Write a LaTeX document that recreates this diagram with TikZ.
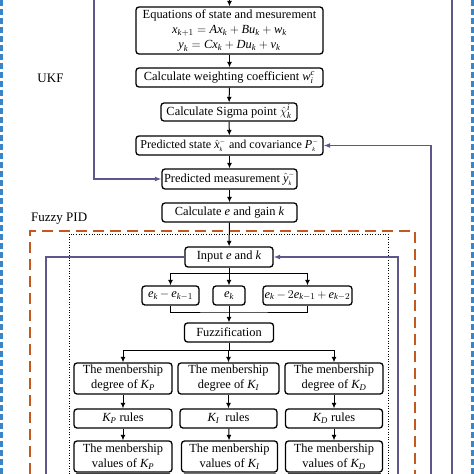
\documentclass[tikz,border=0pt]{standalone}
\usepackage{fontspec}
\setmainfont{Liberation Serif}
\usepackage{amsmath}
\usetikzlibrary{arrows.meta}
\definecolor{pur}{RGB}{92,88,140}
\definecolor{org}{RGB}{192,90,34}
\definecolor{blu}{RGB}{58,132,200}
\newcommand\mv[1]{\textit{#1}}
\begin{document}
\begin{tikzpicture}[x=1pt,y=-1pt,
 box/.style={draw=black,line width=1.3pt,rounded corners=3pt,inner sep=0pt,align=center,font=\fontsize{12.4}{15}\selectfont},
 arr/.style={-{Latex[length=5.5pt,width=5pt]},line width=1pt},
 ln/.style={line width=1pt},
 parr/.style={draw=pur,line width=1.2pt,-{Latex[length=6.5pt,width=5pt]}},
 pline/.style={draw=pur,line width=1.2pt},
 lbl/.style={font=\fontsize{13}{15}\selectfont,inner sep=0pt}]
\useasboundingbox (0,0) rectangle (474,474);
% frames
\draw[blu,line width=3pt,dash pattern=on 6pt off 3pt] (1.5,0) -- (1.5,474);
\draw[blu,line width=3pt,dash pattern=on 6pt off 3pt] (472.5,0) -- (472.5,474);
\draw[org,line width=2.4pt,dash pattern=on 11pt off 6pt] (30,474) -- (30,231) -- (415,231) -- (415,474);
\draw[dotted,line width=0.6pt] (69,474) -- (69,234) -- (388,234) -- (388,474);
% labels
\node[lbl] (ukf) at (50.5,78) {UKF};
\node[lbl,anchor=west] (fpid) at (31,219) {Fuzzy PID};
% UKF boxes
\node[box,minimum width=187pt,minimum height=47pt] (eq) at (229.5,30.5)
 {Equations of state and mesurement\\
 $\mv{x}_{\mv{k}+1}=\mv{Ax}_{\mv{k}}+\mv{Bu}_{\mv{k}}+\mv{w}_{\mv{k}}$\\
 $\mv{y}_{\mv{k}}=\mv{Cx}_{\mv{k}}+\mv{Du}_{\mv{k}}+\mv{v}_{\mv{k}}$};
\node[box,minimum width=187pt,minimum height=19pt] (wc) at (229.5,77.5)
 {Calculate weighting coefficient $\mv{w}_{\mv{i}}^{\mv{c}}$};
\node[box,minimum width=136pt,minimum height=18pt] (sig) at (229,112)
 {Calculate Sigma point $\hat{\chi}_{\mv{k}}^{\mv{i}}$};
\node[box,minimum width=187pt,minimum height=19pt,font=\fontsize{12.1}{15}\selectfont] (ps) at (229.5,145.5)
 {Predicted state $\hat{\mv{x}}_{\scriptscriptstyle\mv{k}}^{\scriptscriptstyle-}$ and covariance $\mv{P}_{\scriptscriptstyle\mv{k}}^{\scriptscriptstyle-}$};
\node[box,minimum width=135pt,minimum height=20pt] (pm) at (229.5,179)
 {Predicted measurement $\hat{\mv{y}}_{\scriptscriptstyle\mv{k}}^{\scriptscriptstyle-}$};
\node[box,minimum width=135pt,minimum height=19pt] (ce) at (229.5,212.5)
 {Calculate $\mv{e}$ and gain $\mv{k}$};
% Fuzzy boxes
\node[box,minimum width=88pt,minimum height=20pt] (in) at (229,257)
 {Input $\mv{e}$ and $\mv{k}$};
\node[box,minimum width=57pt,minimum height=19pt] (e1) at (170.5,295.5)
 {$\medmuskip=3mu\mv{e}_{\mv{k}}-\mv{e}_{\mv{k}-1}$};
\node[box,minimum width=32pt,minimum height=19pt] (e2) at (229,295.5)
 {$\mv{e}_{\mv{k}}$};
\node[box,minimum width=89pt,minimum height=19pt] (e3) at (307.5,295.5)
 {$\medmuskip=3mu\mv{e}_{\mv{k}}-2\mv{e}_{\mv{k}-1}+\mv{e}_{\mv{k}-2}$};
\node[box,minimum width=89pt,minimum height=19pt] (fz) at (229,332.5)
 {Fuzzification};
\node[box,minimum width=98pt,minimum height=31pt] (d1) at (123,378.5)
 {The menbership\\degree of $\mv{K}_{\mv{P}}$};
\node[box,minimum width=101pt,minimum height=31pt] (d2) at (228.5,378.5)
 {The menbership\\degree of $\mv{K}_{\mv{I}}$};
\node[box,minimum width=98pt,minimum height=31pt] (d3) at (334,378.5)
 {The menbership\\degree of $\mv{K}_{\mv{D}}$};
\node[box,minimum width=98pt,minimum height=19pt] (r1) at (123,418.5)
 {$\mv{K}_{\mv{P}}$ rules};
\node[box,minimum width=97pt,minimum height=19pt] (r2) at (228.5,418.5)
 {$\mv{K}_{\mv{I}}$\ \ rules};
\node[box,minimum width=97pt,minimum height=19pt] (r3) at (334,418.5)
 {$\mv{K}_{\mv{D}}$ rules};
\node[box,minimum width=98pt,minimum height=31pt] (v1) at (123,456.5)
 {The menbership\\values of $\mv{K}_{\mv{P}}$};
\node[box,minimum width=96pt,minimum height=31pt] (v2) at (229.5,456.5)
 {The menbership\\values of $\mv{K}_{\mv{I}}$};
\node[box,minimum width=97pt,minimum height=31pt] (v3) at (334,456.5)
 {The menbership\\values of $\mv{K}_{\mv{D}}$};
% bottom edges of the next row
\draw[line width=2pt,black!75] (76,473.5) -- (170,473.5);
\draw[line width=2pt,black!55] (184,473.5) -- (276,473.5);
\draw[line width=2pt,black!75] (288,473.5) -- (381,473.5);
% main flow
\coordinate (top) at (229.5,0);
\draw[arr] (top) -- (eq.north);
\draw[arr] (eq) -- (wc);
\draw[arr] (wc) -- (sig);
\draw[arr] (sig) -- (ps);
\draw[arr] (ps) -- (pm);
\draw[arr] (pm) -- (ce);
\draw[arr] (ce) -- (in);
\coordinate (b1) at (229,273);
\draw[ln] (in.south) -- (b1);
\draw[arr] (b1) -| (e1.north);
\draw[arr] (b1) -- (e2.north);
\draw[arr] (b1) -| (e3.north);
\coordinate (m1) at (229,312);
\draw[ln] (e1.south) |- (m1) -| (e3.south);
\draw[ln] (e2.south) -- (m1);
\draw[arr] (m1) -- (fz.north);
\coordinate (b2) at (229,350);
\draw[ln] (fz.south) -- (b2);
\draw[arr] (b2) -| (d1.north);
\draw[arr] (b2) -| (d2.north);
\draw[arr] (b2) -| (d3.north);
\draw[arr] (d1) -- (r1);
\draw[arr] (d2) -- (r2);
\draw[arr] (d3) -- (r3);
\draw[arr] (r1) -- (v1);
\draw[arr] (r2) -- (v2);
\draw[arr] (r3) -- (v3);
% purple feedback lines
\coordinate (lt) at (94,0);
\draw[parr] (lt) |- (pm.west);
\coordinate (rb) at (431,474);
\draw[parr] (rb) |- (ps.east);
\coordinate (r2b) at (398,474);
\draw[parr] (r2b) |- (in.east);
\coordinate (l2b) at (46,474);
\draw[pline] (in.west) -| (l2b);
\coordinate (ft) at (452,0);
\coordinate (fb) at (452,474);
\draw[pline] (ft) -- (fb);
\end{tikzpicture}
\end{document}
